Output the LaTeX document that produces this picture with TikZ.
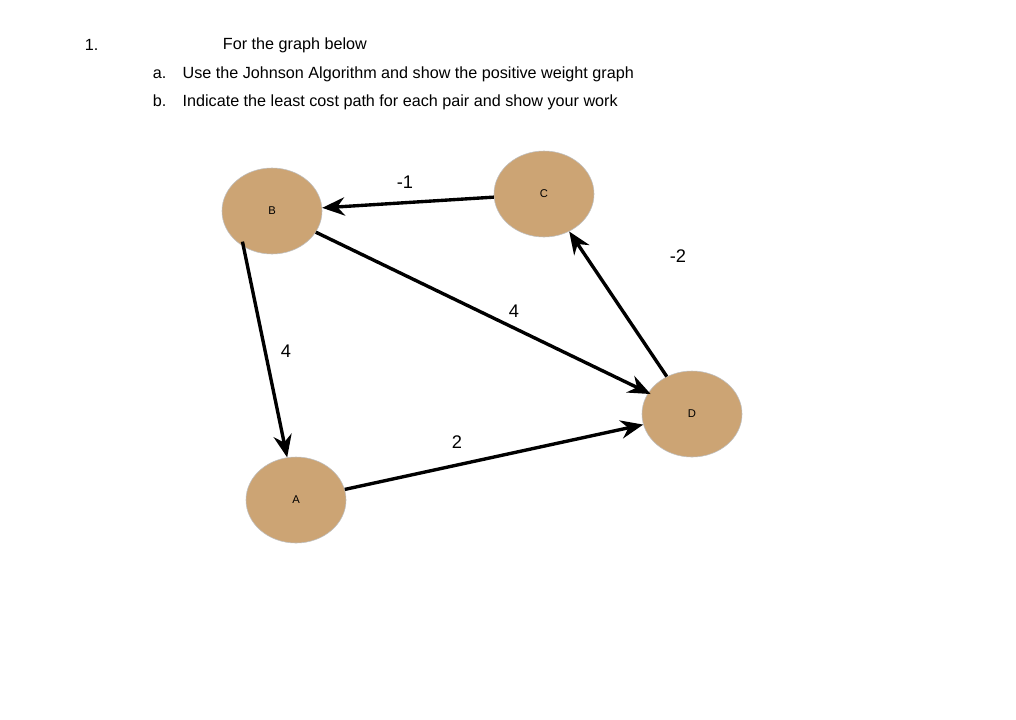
\documentclass[tikz,border=0pt]{standalone}
\usepackage{fontspec}
\setmainfont{Liberation Sans}
\usetikzlibrary{arrows.meta,shapes.geometric}
\definecolor{tan}{RGB}{204,164,116}

\begin{document}
\begin{tikzpicture}[x=0.025cm,y=-0.025cm,
  vertex/.style={ellipse,draw=gray!50,fill=tan,minimum width=2.5cm,minimum height=2.15cm,
    inner sep=0pt,font=\fontsize{8}{9}\selectfont},
  edge/.style={line width=2.4pt,-{Stealth[length=16pt,width=13pt]}},
  wt/.style={font=\fontsize{13}{15}\selectfont}]
\useasboundingbox (0,0) rectangle (1016,719);

% Header text
\node[anchor=west,font=\fontsize{11.5}{14}\selectfont] (num) at (80,45) {1.};
\node[anchor=west,font=\fontsize{11.5}{14}\selectfont] (title) at (218,45) {For the graph below};
\node[anchor=west,font=\fontsize{11.5}{14}\selectfont] (qa) at (148,74) {a.\quad Use the Johnson Algorithm and show the positive weight graph};
\node[anchor=west,font=\fontsize{11.5}{14}\selectfont] (qb) at (148,102) {b.\quad Indicate the least cost path for each pair and show your work};

% Vertices
\foreach \n/\x/\y in {B/272/211, C/544/194, D/692/414, A/296/500}
  \node[vertex] (\n) at (\x,\y) {\n};

% Edges
\draw[edge] (C) -- (B);
\draw[edge,shorten >=-2pt] (B) -- (D);
\draw[edge] (D) -- (C);
\draw[edge] (B.south west) ++(6,0) coordinate (b3) -- (A);
\draw[edge] (A) -- (D);

% Weights
\node[wt] (w1) at (405,182) {-1};
\node[wt] (w2) at (514,311) {4};
\node[wt] (w3) at (678,256) {-2};
\node[wt] (w4) at (286,351) {4};
\node[wt] (w5) at (457,442) {2};
\end{tikzpicture}
\end{document}
